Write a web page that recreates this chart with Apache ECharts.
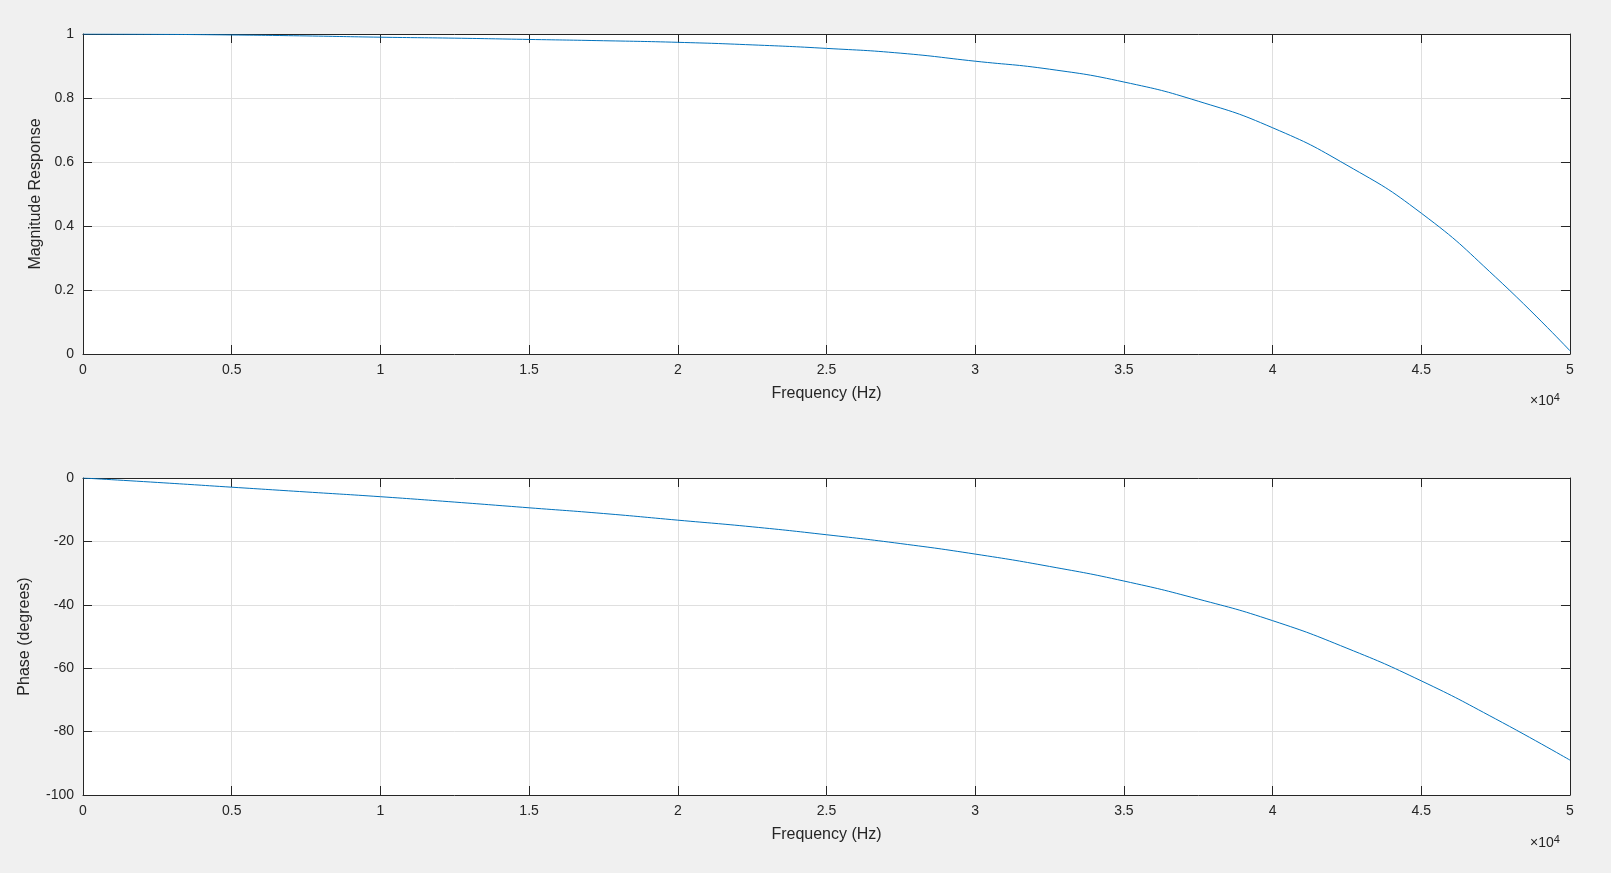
<!DOCTYPE html>
<html><head><meta charset="utf-8">
<script src="https://cdn.jsdelivr.net/npm/echarts@6/dist/echarts.min.js"></script>
<style>html,body{margin:0;background:#f0f0f0}#c{width:1611px;height:873px}</style>
</head><body><div id="c"></div>
<script>
const freq = [0,2500,5000,7500,10000,12500,15000,17500,20000,22500,25000,27500,30000,32500,35000,37500,40000,42500,45000,47500,50000];
const magnitude = [1,0.999,0.997,0.994,0.99,0.987,0.983,0.979,0.974,0.966,0.955,0.94,0.915,0.89,0.85,0.79,0.707,0.59,0.44,0.24,0.01];
const phase = [0,-1.4,-2.9,-4.4,-5.9,-7.6,-9.4,-11.2,-13.3,-15.4,-17.9,-20.7,-24,-27.9,-32.5,-38.2,-45,-53.7,-64,-76,-89];
const font = 'Liberation Sans, Arial, sans-serif';
const lab = {color:'#262626',fontSize:14,fontFamily:font};
function xAx(i, main){
  return {type:'value',gridIndex:i,min:0,max:50000,interval:5000,position:main?'bottom':'top',
    name:main?'Frequency (Hz)':'',nameLocation:'middle',nameGap:32,nameTextStyle:{color:'#262626',fontSize:16,fontFamily:font},
    axisLine:{show:true,onZero:false,lineStyle:{color:'#262626'}},
    axisTick:{show:true,inside:true,length:9,lineStyle:{color:'#262626'}},
    axisLabel:{show:main,...lab,margin:9,formatter:v=>String(v/10000)},
    splitLine:{show:main,lineStyle:{color:'#dfdfdf'}}};
}
function yAx(i, main, min, max, interval, name, gap){
  return {type:'value',gridIndex:i,min,max,interval,position:main?'left':'right',
    name:main?name:'',nameLocation:'middle',nameGap:gap,nameTextStyle:{color:'#262626',fontSize:16,fontFamily:font},
    axisLine:{show:true,onZero:false,lineStyle:{color:'#262626'}},
    axisTick:{show:true,inside:true,length:9,lineStyle:{color:'#262626'}},
    axisLabel:{show:main,...lab,margin:9},
    splitLine:{show:main,lineStyle:{color:'#dfdfdf'}}};
}
const chart = echarts.init(document.getElementById('c'));
chart.setOption({
  backgroundColor:'#f0f0f0',animation:false,
  grid:[{left:83,right:41,top:34,height:320,show:true,backgroundColor:'#fff',borderWidth:0},
        {left:83,right:41,top:478,height:317,show:true,backgroundColor:'#fff',borderWidth:0}],
  xAxis:[xAx(0,true),xAx(0,false),xAx(1,true),xAx(1,false)],
  yAxis:[yAx(0,true,0,1,0.2,'Magnitude Response',37),yAx(0,false,0,1,0.2),
         yAx(1,true,-100,0,20,'Phase (degrees)',50),yAx(1,false,-100,0,20)],
  series:[
    {type:'line',xAxisIndex:0,yAxisIndex:0,data:freq.map((f,i)=>[f,magnitude[i]]),smooth:0.5,showSymbol:false,lineStyle:{color:'#0072bd',width:1}},
    {type:'line',xAxisIndex:2,yAxisIndex:2,data:freq.map((f,i)=>[f,phase[i]]),smooth:0.5,showSymbol:false,lineStyle:{color:'#0072bd',width:1}}
  ],
  graphic:[
    {type:'text',left:1530,top:392,style:{text:'×10{s|4}',rich:{s:{fontSize:11,verticalAlign:'top',padding:[0,0,8,0]}},fill:'#262626',fontSize:14,fontFamily:font}},
    {type:'text',left:1530,top:834,style:{text:'×10{s|4}',rich:{s:{fontSize:11,verticalAlign:'top',padding:[0,0,8,0]}},fill:'#262626',fontSize:14,fontFamily:font}}
  ]
});
</script></body></html>
